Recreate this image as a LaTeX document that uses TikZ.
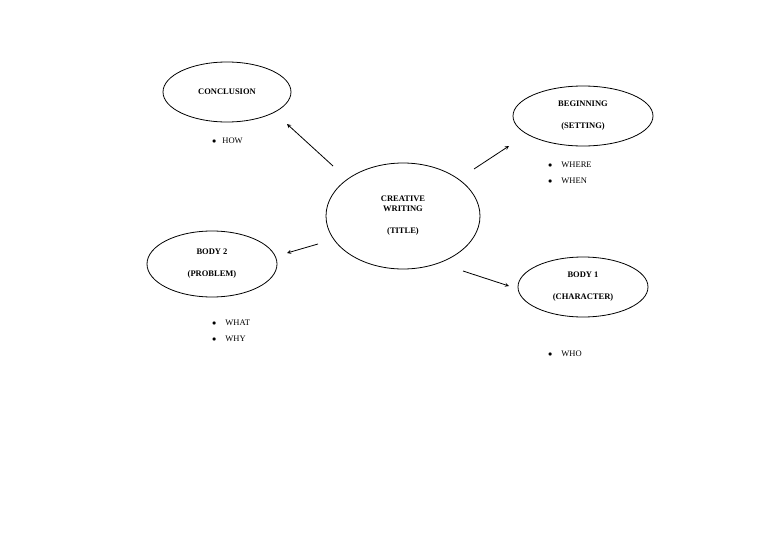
\documentclass[tikz,border=0pt]{standalone}
\usepackage{fontspec}
\setmainfont{Liberation Serif}
\usetikzlibrary{shapes.geometric}
\begin{document}
\begin{tikzpicture}[x=1pt,y=-1pt,
  ell/.style={draw,ellipse,line width=0.8pt,font=\fontsize{8.5}{10}\selectfont\bfseries,align=center,inner sep=0pt},
  bul/.style={anchor=west,font=\fontsize{8.5}{10}\selectfont,inner sep=0pt},
  arr/.style={->,>=stealth,line width=0.8pt}]
\fill[white] (0,0) rectangle (768,543);
\useasboundingbox (0,0) rectangle (768,543);
\node[ell,minimum width=128,minimum height=60] (conc) at (227,92) {CONCLUSION};
\node[ell,minimum width=140,minimum height=60] (beg) at (583,116) {BEGINNING\\[12pt](SETTING)};
\node[ell,minimum width=154,minimum height=106] (cw) at (403,216) {CREATIVE\\WRITING\\[12pt](TITLE)};
\node[ell,minimum width=130,minimum height=66] (b2) at (212,264) {BODY 2\\[12pt](PROBLEM)};
\node[ell,minimum width=130,minimum height=60] (b1) at (583,287) {BODY 1\\[12pt](CHARACTER)};
\coordinate (a1s) at (333,166); \coordinate (a1e) at (287,124);
\coordinate (a2s) at (474,169); \coordinate (a2e) at (509,146);
\coordinate (a3s) at (318,244); \coordinate (a3e) at (287,253);
\coordinate (a4s) at (463,271); \coordinate (a4e) at (509,286);
\draw[arr] (a1s) -- (a1e);
\draw[arr] (a2s) -- (a2e);
\draw[arr] (a3s) -- (a3e);
\draw[arr] (a4s) -- (a4e);
\node[bul] (h) at (212,141) {$\bullet$\hspace{6pt}HOW};
\node[bul] (w1) at (548,165) {$\bullet$\hspace{9pt}WHERE};
\node[bul] (w2) at (548,181) {$\bullet$\hspace{9pt}WHEN};
\node[bul] (w3) at (212,323) {$\bullet$\hspace{9pt}WHAT};
\node[bul] (w4) at (212,339) {$\bullet$\hspace{9pt}WHY};
\node[bul] (w5) at (548,354) {$\bullet$\hspace{9pt}WHO};
\end{tikzpicture}
\end{document}
